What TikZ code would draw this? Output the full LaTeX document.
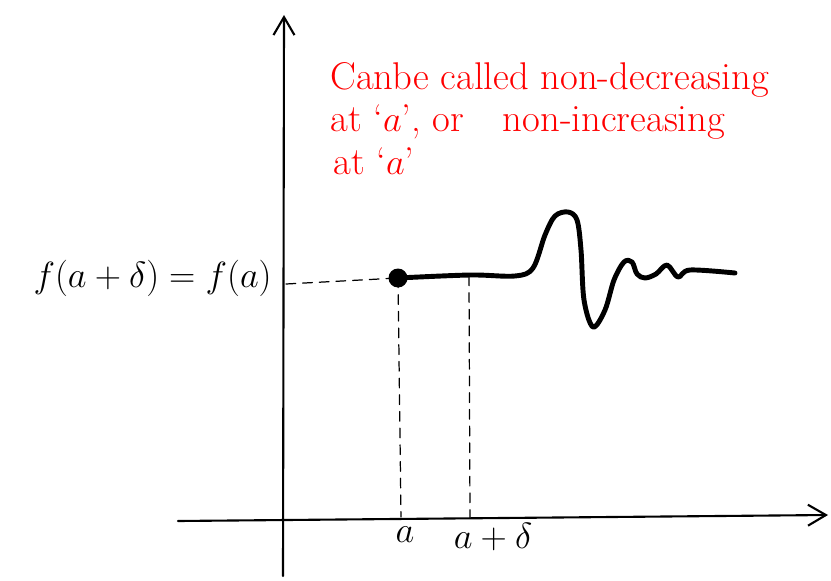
\documentclass[tikz,border=0pt]{standalone}
\usetikzlibrary{arrows.meta}
\begin{document}
\begin{tikzpicture}[x=0.02cm,y=-0.02cm,line join=round,line cap=round,>={Straight Barb[length=0.36cm,width=0.42cm]}]
	\tikzset{ax/.style={line width=1.2pt},
	dsh/.style={line width=0.7pt,dash pattern=on 5.5pt off 4pt},
	note/.style={red,font=\fontsize{22}{26}\selectfont,anchor=base west,inner sep=0pt},
	lab/.style={font=\fontsize{20}{24}\selectfont,inner sep=0pt}}
	\useasboundingbox(0,0)rectangle(831,581);
	\coordinate(ybot)at(283,576);
	\coordinate(ytop)at(284,15);
	\coordinate(xbeg)at(178,521);
	\coordinate(xend)at(828,515);
	\coordinate(fa)at(398,278);
	\coordinate(fad)at(469,276);
	\draw[ax,->](ybot)--(ytop);
	\draw[ax,->](xbeg)--(xend);
	% dashed guides
	\draw[dsh](286,284)--(fa);
	\draw[dsh](fa)--(401,517);
	\draw[dsh](fad)--(470,518);
	% the curve
	\draw[line width=2.8pt]plot[smooth,tension=0.55]coordinates{(fa)(470,275)(515,276)(533,268)(545,235)(555,216)(568,212)(577,220)(581,250)(584,300)(593,327)(605,310)(614,280)(624,262)(632,262)(637,274)(645,278)(656,274)(667,265)(678,277)(690,270)(735,273)};
	\fill(fa)circle[radius=0.19cm];
	% labels
	\node[lab,anchor=east](fval)at(272,278){$f(a+\delta)=f(a)$};
	\node[lab](xa)at(405,535){$a$};
	\node[lab](xad)at(493,537){$a+\delta$};
	\node[note](n1)at(330,90){Canbe called non-decreasing};
	\node[note](n2)at(330,132){at `$a$', or\quad non-increasing};
	\node[note](n3)at(333,174){at `$a$'};
\end{tikzpicture}
\end{document}
